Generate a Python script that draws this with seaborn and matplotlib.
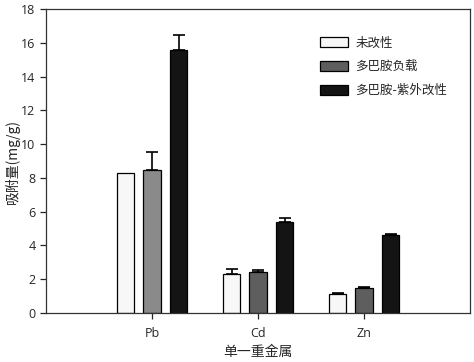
import numpy as np
import pandas as pd
import matplotlib
matplotlib.use('Agg')
import matplotlib.pyplot as plt
import seaborn as sns

metais = ['Pb', 'Cd', 'Zn']
grupos = ['未改性', '多巴胺负载', '多巴胺-紫外改性']
valores = {
    '未改性': [8.3, 2.28, 1.12],
    '多巴胺负载': [8.45, 2.45, 1.5],
    '多巴胺-紫外改性': [15.55, 5.4, 4.6],
}
erros = {
    '未改性': [0.0, 0.34, 0.06],
    '多巴胺负载': [1.1, 0.08, 0.04],
    '多巴胺-紫外改性': [0.9, 0.22, 0.1],
}
cores = ['#f7f7f7', '#5e5e5e', '#141414']

linhas = []
for g in grupos:
    for m, v in zip(metais, valores[g]):
        linhas.append({'metal': m, 'grupo': g, 'valor': v})
df = pd.DataFrame(linhas)

sns.set_style('ticks')
plt.rcParams['font.family'] = ['Open Sans', 'Noto Sans CJK SC', 'DejaVu Sans']

fig = plt.figure(figsize=(4.74, 3.62), dpi=100)
ax = fig.add_axes([46 / 474, 1 - 313 / 362, 424 / 474, 304 / 362])

sns.barplot(data=df, x='metal', y='valor', hue='grupo', order=metais,
            hue_order=grupos, palette=cores, width=0.75, gap=0.33,
            edgecolor='black', linewidth=0.9, saturation=1, ax=ax, legend=True)

# barras em ordem: grupo por grupo, metal por metal
barras = ax.patches[:len(grupos) * len(metais)]
for i, g in enumerate(grupos):
    for j in range(len(metais)):
        b = barras[i * len(metais) + j]
        if g == '多巴胺负载' and j == 0:
            b.set_facecolor('#8a8a8a')
        e = erros[g][j]
        if e > 0:
            xc = b.get_x() + b.get_width() / 2
            ax.errorbar(xc, b.get_height(), yerr=[[0], [e]], fmt='none',
                        ecolor='black', elinewidth=1.2, capsize=4, capthick=1.2)

ax.set_xlim(-1, 3)
ax.set_ylim(0, 18)
ax.set_yticks(range(0, 19, 2))
for s in ['top', 'right', 'left', 'bottom']:
    ax.spines[s].set_visible(True)
    ax.spines[s].set_linewidth(0.9)
    ax.spines[s].set_color('#333333')
ax.tick_params(axis='both', labelsize=9, length=4, width=0.9, direction='out')
ax.tick_params(axis='x', pad=6)
ax.set_xlabel('单一重金属', fontsize=10, labelpad=4,
              family=['Noto Sans CJK SC', 'DejaVu Sans'])
ax.set_ylabel('吸附量(mg/g)', fontsize=10, labelpad=1,
              family=['Noto Sans CJK SC', 'DejaVu Sans'])

leg = ax.legend(loc='upper left', bbox_to_anchor=(0.62, 0.946), frameon=False,
                prop={'family': ['Noto Sans CJK SC', 'DejaVu Sans'], 'size': 9},
                handlelength=2.2, handleheight=0.85,
                labelspacing=0.85, handletextpad=0.6)
for h in leg.legend_handles:
    h.set_edgecolor('black')

fig.savefig('out.png', dpi=100)
